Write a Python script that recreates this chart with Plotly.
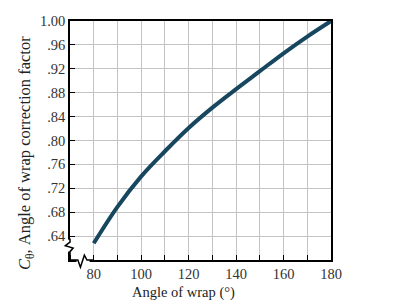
import plotly.graph_objects as go

# Data
angle_deg = [80, 90, 100, 110, 120, 130, 140, 150, 160, 170, 180]
c_theta = [0.628, 0.689, 0.740, 0.782, 0.821, 0.855, 0.886, 0.916, 0.946, 0.974, 1.00]

x_tick_vals = [80, 100, 120, 140, 160, 180]
x_tick_text = ["80", "100", "120", "140", "160", "180"]
y_tick_vals = [0.64, 0.68, 0.72, 0.76, 0.80, 0.84, 0.88, 0.92, 0.96, 1.00]
y_tick_text = [".64", ".68", ".72", ".76", ".80", ".84", ".88", ".92", ".96", "1.00"]

x_title = "Angle of wrap (°)"
y_title = "<i>C</i><sub>θ</sub>, Angle of wrap correction factor"

FONT = "Liberation Serif, Times New Roman, serif"
GRID = "#c4c4c4"

fig = go.Figure()
fig.add_trace(go.Scatter(
    x=angle_deg, y=c_theta, mode="lines",
    line=dict(color="#17465f", width=4, shape="spline", smoothing=1.0),
    hoverinfo="skip", showlegend=False,
))

fig.update_xaxes(
    range=[70, 180], tickmode="array", tickvals=x_tick_vals, ticktext=x_tick_text,
    showgrid=False, showline=True, linecolor="black", linewidth=1.5, mirror=True,
    ticks="", zeroline=False,
    tickfont=dict(family=FONT, size=14.5, color="#333"),
    minor=dict(dtick=10, tick0=0, showgrid=True, gridcolor=GRID, griddash="solid", gridwidth=1,
               ticks="inside", ticklen=5, tickcolor="black"),
)
fig.update_yaxes(
    range=[0.60, 1.00], tickmode="array", tickvals=y_tick_vals, ticktext=y_tick_text,
    showgrid=True, gridcolor=GRID, griddash="solid", gridwidth=1,
    showline=True, linecolor="black", linewidth=1.5, mirror=True,
    ticks="inside", ticklen=5, tickcolor="black", zeroline=False,
    tickfont=dict(family=FONT, size=14.5, color="#333"),
)

annotations = [
    dict(text=x_title, xref="paper", yref="paper", x=0.433, y=-0.134,
         xanchor="center", yanchor="middle", showarrow=False,
         font=dict(family=FONT, size=14.5, color="#222")),
    dict(text=y_title, xref="paper", yref="paper", x=-0.172, y=0.448, textangle=-90,
         xanchor="center", yanchor="middle", showarrow=False,
         font=dict(family=FONT, size=16.5, color="#222")),
]

# axis break symbols
shapes = [
    dict(type="rect", xref="x domain", yref="y domain", x0=-0.02, x1=0.02, y0=0.035, y1=0.085,
         fillcolor="white", line=dict(width=0), layer="above"),
    dict(type="path", xref="x domain", yref="y domain",
         path="M 0,0.09 L 0,0.075 L -0.018,0.06 L 0.012,0.05 L 0,0.035 L 0,0.0",
         line=dict(color="black", width=1.5), layer="above"),
    dict(type="rect", xref="x domain", yref="y domain", x0=0.025, x1=0.075, y0=-0.02, y1=0.02,
         fillcolor="white", line=dict(width=0), layer="above"),
    dict(type="path", xref="x domain", yref="y domain",
         path="M 0,0 L 0.03,0 L 0.04,-0.03 L 0.055,0.02 L 0.065,0 L 0.09,0",
         line=dict(color="black", width=1.5), layer="above"),
]

fig.update_layout(
    width=393, height=307, margin=dict(l=70, r=62, t=21, b=47),
    plot_bgcolor="white", paper_bgcolor="white", shapes=shapes, annotations=annotations,
)

fig.write_html("out.html")
